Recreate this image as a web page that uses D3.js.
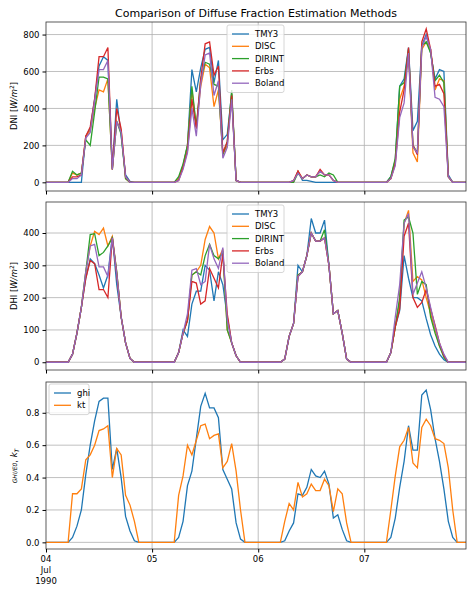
<!DOCTYPE html>
<html><head><meta charset="utf-8">
<script src="https://cdn.jsdelivr.net/npm/d3@7"></script>
<style>body{margin:0;background:#fff;font-family:"DejaVu Sans",sans-serif}</style>
</head><body><div id="chart"></div>
<script>
// hourly values, 1990-07-04 00:00 .. 1990-07-07 23:00
var z5 = [0,0,0,0,0], z3 = [0,0,0];
function day(v) { return z5.concat(v, z3); } // v = hours 5..20

var dniTMY3 = [].concat(
  day([0,0,0,0,250,290,450,630,680,660,80,450,250,40,5,0]),
  day([0,20,90,200,610,490,620,720,730,540,660,230,260,480,10,0]),
  day([0,0,0,5,60,10,10,5,0,0,0,0,0,0,0,0]),
  day([0,30,120,520,560,730,280,330,740,800,700,560,610,600,40,0]));
var dniDISC = [].concat(
  day([0,50,40,50,250,280,400,500,490,560,70,330,280,20,0,0]),
  day([0,20,80,200,500,300,520,640,620,410,500,150,200,480,10,0]),
  day([0,0,0,5,60,20,40,30,30,60,40,40,10,0,0,0]),
  day([0,20,110,450,520,700,160,110,720,760,720,500,560,550,30,0]));
var dniDIRINT = [].concat(
  day([0,60,40,50,230,200,380,570,570,560,70,330,260,20,0,0]),
  day([0,30,100,200,520,300,560,650,640,530,520,150,220,500,10,0]),
  day([0,0,0,0,50,20,40,30,30,40,30,50,40,0,0,0]),
  day([0,30,130,520,540,720,200,160,740,760,700,550,580,540,30,0]));
var dniErbs = [].concat(
  day([0,30,30,40,250,300,450,680,680,730,70,400,290,30,0,0]),
  day([0,10,80,170,450,290,560,750,760,580,630,160,220,470,10,0]),
  day([0,0,0,10,60,20,40,30,30,70,40,40,10,0,0,0]),
  day([0,20,100,380,500,730,200,150,760,830,720,520,530,480,30,0]));
var dniBoland = [].concat(
  day([0,20,20,40,240,270,440,610,610,660,70,330,270,30,0,0]),
  day([0,10,70,160,400,250,530,690,700,470,550,130,190,450,10,0]),
  day([0,0,0,10,50,20,40,30,30,60,40,40,10,0,0,0]),
  day([0,20,90,350,430,700,190,160,730,790,720,460,450,410,30,0]));

var dhiTMY3 = [].concat(
  day([0,25,90,170,260,320,305,270,230,270,390,240,140,60,12,0]),
  day([0,30,100,80,180,220,220,300,285,190,280,240,140,60,20,0]),
  day([0,10,80,120,300,280,330,445,400,400,440,300,150,160,90,10]),
  day([0,30,110,160,330,260,200,200,190,135,85,50,25,8,0,0]));
var dhiDISC = [].concat(
  day([0,25,90,170,280,360,405,395,415,360,390,280,140,60,12,0]),
  day([0,30,90,130,270,280,300,380,420,400,320,350,100,60,20,0]),
  day([0,10,80,120,270,280,330,400,375,375,385,300,150,160,90,10]),
  day([0,30,110,190,430,470,250,265,255,200,150,100,50,20,0,0]));
var dhiDIRINT = [].concat(
  day([0,25,90,170,280,395,398,330,340,360,385,280,140,60,12,0]),
  day([0,30,90,130,270,280,270,330,365,330,320,340,100,60,20,0]),
  day([0,10,80,120,270,280,330,400,375,375,410,300,150,160,90,10]),
  day([0,30,110,200,440,450,400,210,250,240,140,90,50,15,0,0]));
var dhiErbs = [].concat(
  day([0,25,90,170,260,315,305,225,225,200,385,270,140,60,12,0]),
  day([0,30,90,130,250,245,180,190,290,260,230,335,150,60,20,0]),
  day([0,10,80,120,265,280,330,400,375,375,385,300,150,160,90,10]),
  day([0,30,110,165,390,430,200,170,185,225,165,115,60,20,0,0]));
var dhiBoland = [].concat(
  day([0,25,90,170,280,360,365,295,295,265,385,275,140,60,12,0]),
  day([0,30,90,150,285,290,240,250,365,320,290,355,130,60,20,0]),
  day([0,10,80,120,265,280,330,400,375,375,385,300,150,160,90,10]),
  day([0,30,140,240,430,460,210,245,280,230,170,110,60,25,0,0]));

var ghiFrac = [].concat(
  day([0,0.03,0.1,0.2,0.42,0.6,0.75,0.87,0.89,0.89,0.45,0.58,0.4,0.16,0.07,0.01]),
  day([0,0.03,0.13,0.35,0.44,0.64,0.84,0.92,0.83,0.83,0.77,0.45,0.39,0.33,0.12,0.02]),
  day([0,0.01,0.07,0.12,0.3,0.29,0.34,0.45,0.41,0.4,0.44,0.36,0.15,0.17,0.08,0.01]),
  day([0,0.03,0.15,0.34,0.5,0.72,0.57,0.57,0.91,0.94,0.82,0.64,0.5,0.33,0.13,0.03]));
var ktVals = [].concat(
  day([0,0.3,0.3,0.33,0.51,0.54,0.6,0.69,0.7,0.72,0.4,0.58,0.54,0.29,0.23,0.13]),
  day([0,0.29,0.41,0.6,0.54,0.63,0.72,0.73,0.64,0.66,0.67,0.46,0.5,0.61,0.44,0.2]),
  day([0,0.13,0.24,0.2,0.37,0.28,0.3,0.36,0.32,0.32,0.39,0.35,0.19,0.33,0.3,0.12]),
  day([0,0.2,0.41,0.59,0.63,0.71,0.49,0.46,0.71,0.76,0.72,0.64,0.63,0.61,0.46,0.2]));

var methods = ["TMY3", "DISC", "DIRINT", "Erbs", "Boland"];
var dayTicks = ["04", "05", "06", "07"];
var colors = ["#1f77b4", "#ff7f0e", "#2ca02c", "#d62728", "#9467bd"];

var W = 474, H = 592;
var left = 46, right = 466;
var svg = d3.select("#chart").append("svg").attr("width", W).attr("height", H);

var x = d3.scaleLinear().domain([0, 95]).range([left, right]);

svg.append("text").attr("x", (left + right) / 2).attr("y", 17)
    .attr("text-anchor", "middle").style("font-size", "11px")
    .text("Comparison of Diffuse Fraction Estimation Methods");

function panel(top, bottom, domain, ticks, fmt, series, names, legend) {
    var y = d3.scaleLinear().domain(domain).range([bottom, top]);
    var g = svg.append("g");
    // grid
    g.selectAll(".gy").data(ticks).enter().append("line")
        .attr("x1", left).attr("x2", right)
        .attr("y1", y).attr("y2", y)
        .style("stroke", "#b0b0b0").style("stroke-width", 0.8);
    g.selectAll(".gx").data([24, 48, 72]).enter().append("line")
        .attr("x1", x).attr("x2", x).attr("y1", top).attr("y2", bottom)
        .style("stroke", "#b0b0b0").style("stroke-width", 0.8);
    var line = d3.line().x(function(d, i) { return x(i); }).y(function(d) { return y(d); });
    series.forEach(function(s, i) {
        g.append("path").datum(s).attr("d", line)
            .style("fill", "none").style("stroke", colors[i]).style("stroke-width", 1.3);
    });
    g.append("rect").attr("x", left).attr("y", top).attr("width", right - left).attr("height", bottom - top)
        .style("fill", "none").style("stroke", "#333").style("stroke-width", 0.8);
    var ya = g.append("g").attr("transform", "translate(" + left + ",0)")
        .call(d3.axisLeft(y).tickValues(ticks).tickFormat(fmt).tickSize(3.5));
    ya.select(".domain").remove();
    ya.selectAll("text").style("font-size", "8.5px").style("font-family", "DejaVu Sans");
    var xa = g.append("g").attr("transform", "translate(0," + bottom + ")")
        .call(d3.axisBottom(x).tickValues([0, 24, 48, 72]).tickSize(3.5).tickFormat(""));
    xa.select(".domain").remove();
    // legend
    var lg = g.append("g").attr("transform", "translate(" + legend[0] + "," + legend[1] + ")");
    lg.append("rect").attr("width", legend[2]).attr("height", names.length * 12.3 + 6)
        .attr("rx", 2).style("fill", "rgba(255,255,255,0.8)").style("stroke", "#ccc").style("stroke-width", 0.8);
    names.forEach(function(n, i) {
        lg.append("line").attr("x1", 5).attr("x2", 22).attr("y1", 9 + i * 12.3).attr("y2", 9 + i * 12.3)
            .style("stroke", colors[i]).style("stroke-width", 1.3);
        lg.append("text").attr("x", 28).attr("y", 12 + i * 12.3).style("font-size", "8.5px").text(n);
    });
    return g;
}

panel(22, 191, [-47, 868], [0, 200, 400, 600, 800], d3.format("d"),
    [dniTMY3, dniDISC, dniDIRINT, dniErbs, dniBoland], methods, [227, 25, 57]);
panel(202, 370, [-24, 496], [0, 100, 200, 300, 400], d3.format("d"),
    [dhiTMY3, dhiDISC, dhiDIRINT, dhiErbs, dhiBoland], methods, [227, 205, 57]);
panel(382, 549, [-0.041, 0.99], [0, 0.2, 0.4, 0.6, 0.8], d3.format(".1f"),
    [ghiFrac, ktVals], ["ghi", "kt"], [49, 384, 40]);

// y labels
function ylab(yc, html) {
    var t = svg.append("text").attr("transform", "translate(17," + yc + ") rotate(-90)")
        .attr("text-anchor", "middle").style("font-size", "8.5px").style("fill", "#000");
    html(t);
}
ylab(106, function(t) {
    t.append("tspan").text("DNI [");
    t.append("tspan").style("font-style", "italic").text("W/m");
    t.append("tspan").attr("dy", -3).style("font-size", "6px").text("2");
    t.append("tspan").attr("dy", 3).text("]");
});
ylab(286, function(t) {
    t.append("tspan").text("DHI [");
    t.append("tspan").style("font-style", "italic").text("W/m");
    t.append("tspan").attr("dy", -3).style("font-size", "6px").text("2");
    t.append("tspan").attr("dy", 3).text("]");
});
ylab(466, function(t) {
    t.style("font-size", "6px");
    t.append("tspan").style("font-style", "italic").text("GHI/E0");
    t.append("tspan").style("font-size", "8.5px").text(", ");
    t.append("tspan").style("font-style", "italic").style("font-size", "8.5px").text("k");
    t.append("tspan").attr("dy", 2).style("font-style", "italic").text("T");
});

// x tick labels on bottom panel
dayTicks.forEach(function(d, i) {
    svg.append("text").attr("x", x(i * 24)).attr("y", 562).attr("text-anchor", "middle")
        .style("font-size", "8.5px").text(d);
});
svg.append("text").attr("x", x(0)).attr("y", 573).attr("text-anchor", "middle").style("font-size", "8.5px").text("Jul");
svg.append("text").attr("x", x(0)).attr("y", 584).attr("text-anchor", "middle").style("font-size", "8.5px").text("1990");
</script></body></html>
